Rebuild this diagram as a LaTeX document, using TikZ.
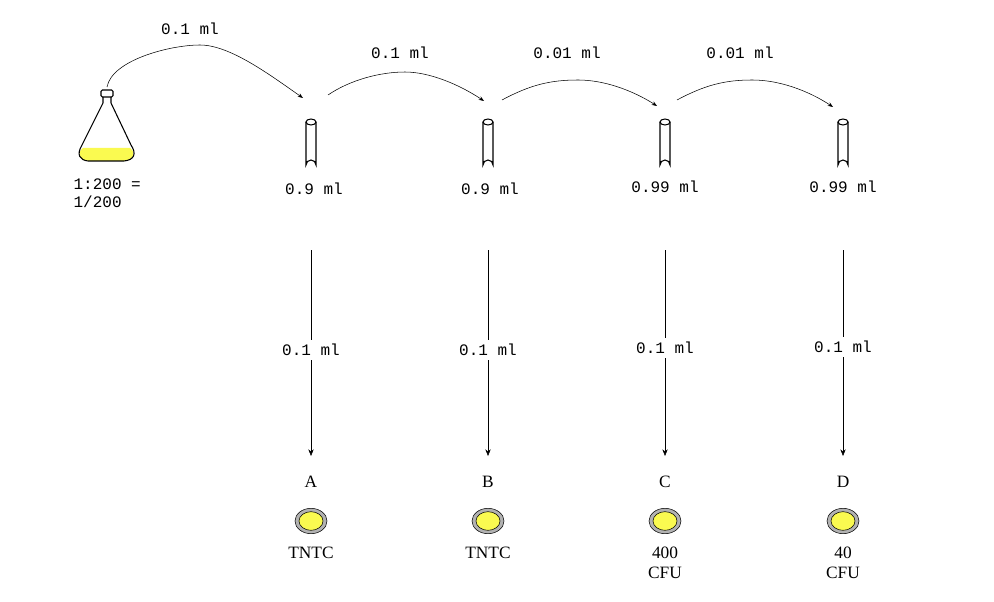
\documentclass[tikz,border=0pt]{standalone}
\usepackage{fontspec}
\setmainfont{Liberation Serif}
\newfontfamily\monof{Liberation Mono}
\usetikzlibrary{arrows.meta,shapes.geometric}
\definecolor{liq}{RGB}{250,250,80}
\tikzset{
 lbl/.style={font=\monof\fontsize{12}{14}\selectfont, inner sep=1pt},
 ser/.style={font=\fontsize{13}{15}\selectfont, inner sep=1pt, align=center},
 xfer/.style={-{Stealth[length=4pt,width=3pt]}, thin},
 tube/.style={draw, thick, fill=white},
}
\begin{document}
\begin{tikzpicture}[x=0.75pt,y=-0.75pt]
\useasboundingbox (0,0) rectangle (994,602);
% flask
\fill[liq] (83,148) -- (130,148) .. controls (136,152) and (134,160) .. (124,161) -- (88,161) .. controls (78,160) and (77,152) .. (83,148) -- cycle;
\draw[thick] (103,97) -- (103,103) -- (82,145) .. controls (76,155) and (80,160) .. (88,161) -- (124,161) .. controls (134,160) and (137,154) .. (131,145) -- (111,103) -- (111,97);
\draw[thick, rounded corners=1pt] (101,90) rectangle (113,97);
\coordinate (flask) at (107,87);
\node[lbl, anchor=north west, align=left] (ratio) at (72,177) {1:200 =\\1/200};
% tubes
\foreach \n/\x in {a/311,b/488,c/665,d/843}{
 \draw[tube] (\x-5,122) -- (\x-5,165) arc (180:360:5) -- (\x+5,122);
 \draw[tube] (\x,122) ellipse (5 and 3);
 \coordinate (t\n) at (\x,117);
}
\coordinate (ea) at (303,98); \coordinate (eb) at (484,101);
\coordinate (ec) at (657,106); \coordinate (ed) at (833,107);
\coordinate (sb) at (328,95); \coordinate (sc) at (502,100); \coordinate (sd) at (677,100);
\draw[xfer] (flask) .. controls (112,60) and (170,45) .. (200,45) .. controls (230,45) and (270,75) .. (ea);
\draw[xfer] (sb) .. controls (350,80) and (380,72) .. (405,72) .. controls (430,72) and (460,85) .. (eb);
\draw[xfer] (sc) .. controls (530,85) and (550,80) .. (578,80) .. controls (610,80) and (640,95) .. (ec);
\draw[xfer] (sd) .. controls (705,85) and (725,80) .. (752,80) .. controls (785,80) and (815,95) .. (ed);
\node[lbl] (l1) at (190,29) {0.1 ml};
\node[lbl] (l2) at (400,53) {0.1 ml};
\node[lbl] (l3) at (567,53) {0.01 ml};
\node[lbl] (l4) at (740,53) {0.01 ml};
\node[lbl] (va) at (314,189) {0.9 ml};
\node[lbl] (vb) at (490,189) {0.9 ml};
\node[lbl] (vc) at (665,187) {0.99 ml};
\node[lbl] (vd) at (843,187) {0.99 ml};
% plating
\foreach \n/\x/\y/\L/\r in {a/311/350/A/{TNTC},b/488/350/B/{TNTC},c/665/348/C/{400\\CFU},d/843/347/D/{40\\CFU}}{
 \coordinate (s\n) at (\x,250);
 \coordinate (e\n) at (\x,456);
 \node[lbl, fill=white, inner sep=3pt] (p\n) at (\x,\y) {0.1 ml};
 \node[ser] (L\n) at (\x,482) {\L};
 \node[draw=black, fill=gray!60, ellipse, minimum width=24pt, minimum height=19pt, inner sep=0pt] (dish\n) at (\x,521) {};
 \node[draw=black, fill=liq, ellipse, minimum width=18pt, minimum height=14pt, inner sep=0pt] at (\x,521) {};
 \node[ser, anchor=north] (r\n) at (\x,545) {\r};
 \draw (s\n) -- (p\n.north);
 \draw[-{Stealth[length=5pt,width=4pt]}] (p\n.south) -- (e\n);
}
\end{tikzpicture}
\end{document}
